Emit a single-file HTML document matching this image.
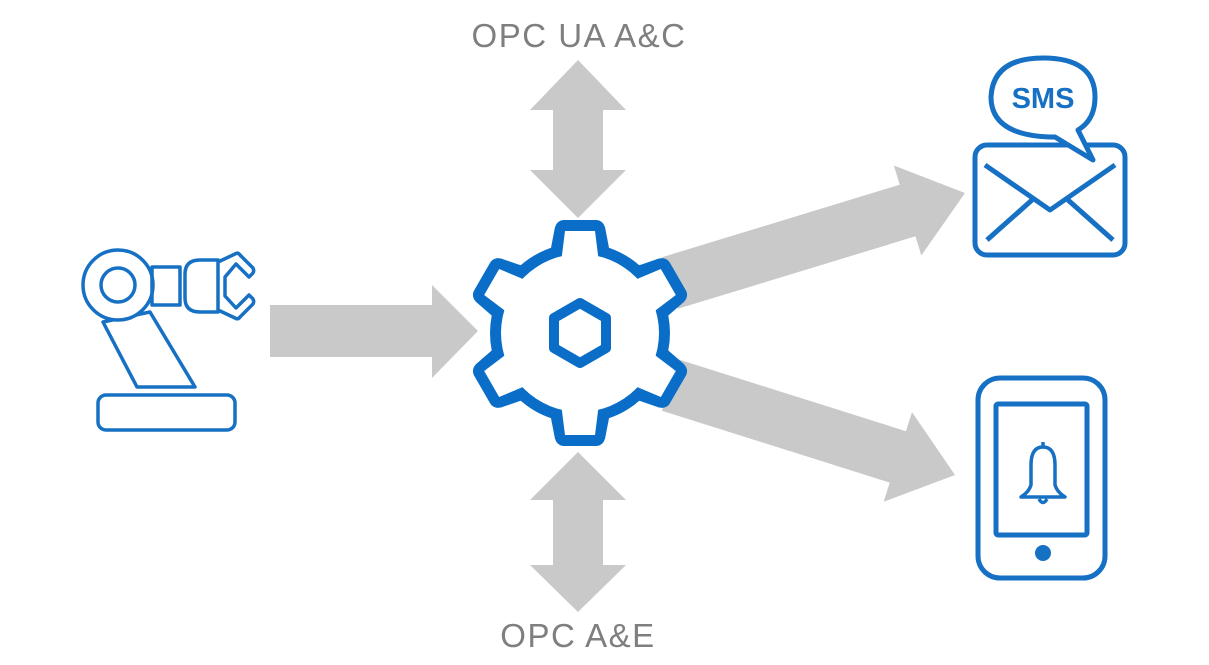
<!DOCTYPE html>
<html><head><style>html,body{margin:0;padding:0;background:#fff;width:1209px;height:665px;overflow:hidden}</style></head>
<body>
<svg width="1209" height="665" viewBox="0 0 1209 665" xmlns="http://www.w3.org/2000/svg">
<g fill="#c9c9c9">
<polygon points="270,305 432,305 432,285 478,331 432,378 432,357 270,357"/>
<polygon points="578,60 626,110 603,110 603,170 626,170 578,218 530,170 553,170 553,110 530,110"/>
<polygon points="578,452 626,500 603,500 603,565 626,565 578,612 530,565 553,565 553,500 530,500"/>
<polygon points="677.9,308.8 915.5,236.3 921.3,255.5 965,193 893.9,165.5 899.7,184.7 662.1,257.2"/>
<polygon points="678.1,359.3 905.9,431.2 912,412.1 955,475 883.7,501.7 889.7,482.6 661.9,410.7"/>
</g>
<g transform="translate(580,333)">
<g fill="#0a6ec8">
<circle r="90"/>
<polygon points="-30,-80 -25,-106 25,-106 30,-80"/>
<rect x="-25" y="-113" width="50" height="30" rx="9"/>
<g transform="rotate(60)"><polygon points="-30,-80 -25,-106 25,-106 30,-80"/><rect x="-25" y="-113" width="50" height="30" rx="9"/></g>
<g transform="rotate(120)"><polygon points="-30,-80 -25,-106 25,-106 30,-80"/><rect x="-25" y="-113" width="50" height="30" rx="9"/></g>
<g transform="rotate(180)"><polygon points="-30,-80 -25,-106 25,-106 30,-80"/><rect x="-25" y="-113" width="50" height="30" rx="9"/></g>
<g transform="rotate(240)"><polygon points="-30,-80 -25,-106 25,-106 30,-80"/><rect x="-25" y="-113" width="50" height="30" rx="9"/></g>
<g transform="rotate(300)"><polygon points="-30,-80 -25,-106 25,-106 30,-80"/><rect x="-25" y="-113" width="50" height="30" rx="9"/></g>
</g>
<g fill="#fff">
<circle r="79"/>
<polygon points="-19,-70 -15,-102 15,-102 19,-70"/>
<g transform="rotate(60)"><polygon points="-19,-70 -15,-102 15,-102 19,-70"/></g>
<g transform="rotate(120)"><polygon points="-19,-70 -15,-102 15,-102 19,-70"/></g>
<g transform="rotate(180)"><polygon points="-19,-70 -15,-102 15,-102 19,-70"/></g>
<g transform="rotate(240)"><polygon points="-19,-70 -15,-102 15,-102 19,-70"/></g>
<g transform="rotate(300)"><polygon points="-19,-70 -15,-102 15,-102 19,-70"/></g>
</g>
<polygon points="0,-30 26,-15 26,15 0,30 -26,15 -26,-15" fill="none" stroke="#0a6ec8" stroke-width="10" stroke-linejoin="round"/>
</g>
<g fill="none" stroke="#1670c4" stroke-width="3.5" stroke-linejoin="round">
<rect x="98" y="395" width="137" height="35" rx="8"/>
<polygon points="103,322 150,312 195,387 137,387"/>
<circle cx="118" cy="285" r="35" fill="#fff"/>
<circle cx="118" cy="285" r="17"/>
<rect x="152" y="267" width="28" height="38"/>
<path d="M200,260 L218,260 L218,312 L200,312 Q185,312 185,298 L185,274 Q185,260 200,260 Z"/>
<path d="M218,262 L235,254 Q238,252 240,255 L253,268 Q255,272 251,275 L249,277 L236,264 L225,277 L225,296 L236,308 L249,295 L251,297 Q255,300 253,304 L240,317 Q238,320 235,318 L218,310"/>
</g>
<g fill="none" stroke="#1670c4" stroke-width="5" stroke-linejoin="round">
<rect x="975" y="145" width="150" height="110" rx="12"/>
<path d="M985,165 L1050,210 L1115,165 M987,240 L1032,200 M1113,240 L1068,200"/>
<path d="M1050,137 Q991,135 991,97 Q993,58 1043,58 Q1095,58 1095,97 Q1095,120 1078,130 L1093,160 L1055,137 Z" fill="#fff"/>
<rect x="978" y="378" width="127" height="200" rx="22"/>
<rect x="996" y="404" width="91" height="131" rx="2"/>
</g>
<text x="1043" y="108" font-family="Liberation Sans, sans-serif" font-weight="bold" font-size="29" fill="#1670c4" text-anchor="middle">SMS</text>
<circle cx="1043" cy="553" r="8" fill="#1670c4"/>
<path d="M1031,485 L1031,465 Q1031,447 1043,447 Q1055,447 1055,465 L1055,485 Q1057,492 1065,497 L1021,497 Q1029,492 1031,485 Z M1043,447 L1043,442 M1039,499 Q1043,506 1047,499" fill="none" stroke="#1670c4" stroke-width="3.5" stroke-linejoin="round"/>
<text x="579" y="47" font-family="Liberation Sans, sans-serif" font-size="33" letter-spacing="1.5" fill="#7f7f7f" text-anchor="middle">OPC UA A&amp;C</text>
<text x="578" y="647" font-family="Liberation Sans, sans-serif" font-size="33" letter-spacing="1.5" fill="#7f7f7f" text-anchor="middle">OPC A&amp;E</text>
</svg>
</body></html>
